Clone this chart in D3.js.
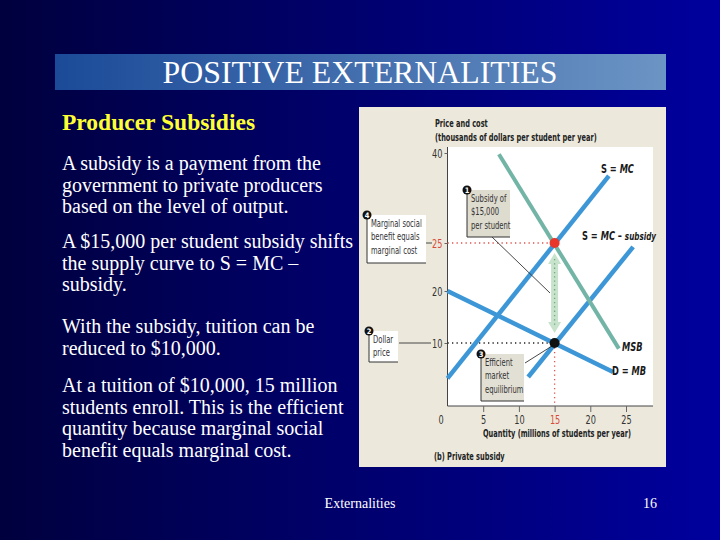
<!DOCTYPE html>
<html>
<head>
<meta charset="utf-8">
<script src="https://cdn.jsdelivr.net/npm/d3@7"></script>
<style>
	body { margin: 0; background: #000060; }
	svg { display: block; }
</style>
</head>
<body>
<div id="container"></div>
<script>
// 1. Data
const slideTitle = "POSITIVE EXTERNALITIES"
const heading = "Producer Subsidies"
const paragraphs = [
	["A subsidy is a payment from the", "government to private producers", "based on the level of output."],
	["A $15,000 per student subsidy shifts", "the supply curve to S = MC \u2013", "subsidy."],
	["With the subsidy, tuition can be", "reduced to $10,000."],
	["At a tuition of $10,000, 15 million", "students enroll. This is the efficient", "quantity because marginal social", "benefit equals marginal cost."],
]
const footerText = "Externalities"
const pageNumber = "16"

// curves: quantity (millions of students), price (thousands of dollars)
const msb = [{ q: 7.2, p: 39.8 }, { q: 24, p: 9.1 }]
const supply = [{ q: 0, p: 4.4 }, { q: 22.6, p: 36.2 }]
const supplySubsidy = [{ q: 11.3, p: 4.6 }, { q: 26, p: 24.6 }]
const demand = [{ q: 0, p: 20 }, { q: 23.2, p: 5.4 }]

const xTicks = [5, 10, 15, 20, 25]
const yTicks = [10, 20, 25, 40]
const efficientQ = 15
const costPrice = 25
const dollarPrice = 10

const calloutNumbers = ["1", "4", "2", "3"]
const calloutTexts = [
	["Subsidy of", "$15,000", "per student"],
	["Marginal social", "benefit equals", "marginal cost"],
	["Dollar", "price"],
	["Efficient", "market", "equilibrium"],
]

// 2. Dimensions
const width = 720
const height = 540

const svg = d3.select("#container")
	.append("svg")
	.attr("width", width)
	.attr("height", height)

const defs = svg.append("defs")

const bgGrad = defs.append("linearGradient").attr("id", "bg")
bgGrad.append("stop").attr("offset", "0%").attr("stop-color", "#00003e")
bgGrad.append("stop").attr("offset", "100%").attr("stop-color", "#00009e")

const titleGrad = defs.append("linearGradient").attr("id", "titlebar")
titleGrad.append("stop").attr("offset", "0%").attr("stop-color", "#1b4a98")
titleGrad.append("stop").attr("offset", "100%").attr("stop-color", "#6c94c4")

svg.append("rect")
	.attr("width", width)
	.attr("height", height)
	.attr("fill", "url(#bg)")

// Title bar
svg.append("rect")
	.attr("x", 55)
	.attr("y", 54)
	.attr("width", 611)
	.attr("height", 36)
	.attr("fill", "url(#titlebar)")

const serif = "'Liberation Serif', 'Times New Roman', serif"

svg.append("text")
	.attr("x", 360)
	.attr("y", 83)
	.attr("text-anchor", "middle")
	.attr("fill", "white")
	.style("font-family", serif)
	.style("font-size", "31.8px")
	.text(slideTitle)

// Left text
svg.append("text")
	.attr("x", 62)
	.attr("y", 130)
	.attr("fill", "#ffff33")
	.style("font-family", serif)
	.style("font-size", "23.5px")
	.style("font-weight", "bold")
	.text(heading)

const paraTops = [170, 248, 333, 392]
const lineStep = 21.5
paragraphs.forEach((lines, i) => {
	svg.append("g")
		.selectAll("text")
		.data(lines)
		.join("text")
		.attr("x", 62)
		.attr("y", (d, j) => paraTops[i] + j * lineStep)
		.attr("fill", "white")
		.style("font-family", serif)
		.style("font-size", "20px")
		.text(d => d)
})

// Footer
svg.append("text")
	.attr("x", 360)
	.attr("y", 508)
	.attr("text-anchor", "middle")
	.attr("fill", "white")
	.style("font-family", serif)
	.style("font-size", "14px")
	.text(footerText)

svg.append("text")
	.attr("x", 650)
	.attr("y", 508)
	.attr("text-anchor", "middle")
	.attr("fill", "white")
	.style("font-family", serif)
	.style("font-size", "14px")
	.text(pageNumber)

// 3. Chart panel (the textbook figure is squeezed sideways on the slide)
const sans = "'DejaVu Sans Condensed', 'DejaVu Sans', sans-serif"
const squeeze = 0.7

const panel = svg.append("g")

panel.append("rect")
	.attr("x", 359)
	.attr("y", 107)
	.attr("width", 307)
	.attr("height", 360)
	.attr("fill", "#ece9dc")

// 4. Scales (the textbook axis is schematic, so y is piecewise)
const x = d3.scaleLinear()
	.domain([0, 25])
	.range([447.5, 626])

const y = d3.scaleLinear()
	.domain([0, 10, 20, 25, 40])
	.range([406, 343, 291, 243, 153])

const plotTop = 147
const plotRight = 653

panel.append("rect")
	.attr("x", x(0))
	.attr("y", plotTop)
	.attr("width", plotRight - x(0))
	.attr("height", y(0) - plotTop)
	.attr("fill", "white")

// axis titles
const titles = [
	{ text: "Price and cost", x: 435, y: 127 },
	{ text: "(thousands of dollars per student per year)", x: 435, y: 141 },
	{ text: "Quantity (millions of students per year)", x: 483, y: 437 },
	{ text: "(b) Private subsidy", x: 434, y: 460 },
]
panel.selectAll(".axis-title")
	.data(titles)
	.join("text")
	.attr("class", "axis-title squeeze")
	.attr("x", d => d.x)
	.attr("y", d => d.y)
	.attr("fill", "#222")
	.style("font-family", sans)
	.style("font-size", "10.5px")
	.style("font-weight", "bold")
	.text(d => d.text)

// 5. Axes
const yAxis = panel.append("g")
	.attr("transform", `translate(${x(0)},0)`)
	.call(d3.axisLeft(y).tickValues(yTicks).tickSize(3).tickPadding(2))

yAxis.select(".domain").attr("d", `M0,${plotTop}V${y(0)}`).attr("stroke", "#444")

const xAxis = panel.append("g")
	.attr("transform", `translate(0,${y(0)})`)
	.call(d3.axisBottom(x).tickValues(xTicks).tickSize(6).tickPadding(3))

xAxis.select(".domain").attr("d", `M${x(0)},0H${plotRight}`).attr("stroke", "#444")

xAxis.selectAll(".tick text").attr("fill", d => d === efficientQ ? "#d84a3a" : "#333")
yAxis.selectAll(".tick text").attr("fill", d => d === costPrice ? "#d84a3a" : "#333")

for (const axis of [xAxis, yAxis]) {
	axis.selectAll(".tick line").attr("stroke", "#666")
	axis.selectAll(".tick text")
		.classed("squeeze", true)
		.style("font-family", sans)
		.style("font-size", "13px")
}

panel.append("text")
	.attr("class", "squeeze")
	.attr("x", 441)
	.attr("y", 424)
	.attr("text-anchor", "middle")
	.attr("fill", "#333")
	.style("font-family", sans)
	.style("font-size", "13px")
	.text("0")

// dotted guides
const guides = [
	{ x1: x(0), x2: x(efficientQ), y1: y(costPrice), y2: y(costPrice), color: "#e0534a" },
	{ x1: x(0), x2: x(efficientQ), y1: y(dollarPrice), y2: y(dollarPrice), color: "#222" },
	{ x1: x(efficientQ), x2: x(efficientQ), y1: y(dollarPrice), y2: y(0), color: "#e0534a" },
]
panel.selectAll(".guide")
	.data(guides)
	.join("line")
	.attr("class", "guide")
	.attr("x1", d => d.x1).attr("x2", d => d.x2)
	.attr("y1", d => d.y1).attr("y2", d => d.y2)
	.attr("stroke", d => d.color)
	.attr("stroke-width", 1.3)
	.attr("stroke-dasharray", "1.3,3.2")

// 6. Curves
const line = d3.line()
	.x(d => x(d.q))
	.y(d => y(d.p))

const curves = [
	{ data: demand, color: "#3d97d6", w: 4.5 },
	{ data: supply, color: "#3d97d6", w: 4.5 },
	{ data: supplySubsidy, color: "#3d97d6", w: 4.5 },
	{ data: msb, color: "#72b5a6", w: 4 },
]

panel.selectAll(".curve")
	.data(curves)
	.join("path")
	.attr("class", "curve")
	.attr("d", d => line(d.data))
	.attr("fill", "none")
	.attr("stroke", d => d.color)
	.attr("stroke-width", d => d.w)

// subsidy arrow (double headed)
const ax = x(efficientQ)
const aTop = y(costPrice) + 10
const aBot = y(dollarPrice) - 10
const headH = 11
const shaftW = 3.5
const headW = 6.5
panel.append("path")
	.attr("d", `M${ax},${aTop}
		L${ax + headW},${aTop + headH} L${ax + shaftW},${aTop + headH}
		L${ax + shaftW},${aBot - headH} L${ax + headW},${aBot - headH}
		L${ax},${aBot}
		L${ax - headW},${aBot - headH} L${ax - shaftW},${aBot - headH}
		L${ax - shaftW},${aTop + headH} L${ax - headW},${aTop + headH} Z`)
	.attr("fill", "#c7e3cc")

panel.append("line")
	.attr("x1", ax).attr("x2", ax)
	.attr("y1", aTop + 6).attr("y2", aBot - 6)
	.attr("stroke", "#6fa882")
	.attr("stroke-width", 1.3)
	.attr("stroke-dasharray", "1.3,3")

// leader lines
const leaders = [
	[[492, 237], [550, 293]],
	[[525, 363], [552, 346]],
	[[399, 343], [431, 343]],
	[[426, 243], [432, 243]],
]
panel.selectAll(".leader")
	.data(leaders)
	.join("path")
	.attr("class", "leader")
	.attr("d", d => d3.line()(d))
	.attr("stroke", "#333")
	.attr("stroke-width", 0.9)

// equilibrium points
panel.append("circle")
	.attr("cx", x(efficientQ))
	.attr("cy", y(costPrice))
	.attr("r", 5)
	.attr("fill", "#e8362a")

panel.append("circle")
	.attr("cx", x(efficientQ))
	.attr("cy", y(dollarPrice))
	.attr("r", 5)
	.attr("fill", "#111")

// curve labels
const curveLabel = (xp, yp, parts) => {
	const t = panel.append("text")
		.attr("class", "squeeze-label")
		.attr("x", xp)
		.attr("y", yp)
		.attr("fill", "#1a1a1a")
		.style("font-family", sans)
		.style("font-weight", "bold")
		.style("font-size", "11.5px")
	parts.forEach(([s, italic, size]) => {
		t.append("tspan")
			.style("font-style", italic ? "italic" : "normal")
			.style("font-size", size ? size + "px" : null)
			.text(s)
	})
}
curveLabel(601, 173, [["S = ", false], ["MC", true]])
curveLabel(582, 240, [["S = ", false], ["MC", true], [" \u2013 ", false], ["subsidy", true, 10]])
curveLabel(622, 351, [["MSB", true]])
curveLabel(612, 375, [["D = ", false], ["MB", true]])

// 7. Callouts
const calloutBoxes = [
	{ x: 467, y: 190, w: 43, h: 47, fill: "#dedbcf" },
	{ x: 367, y: 215, w: 59, h: 48, fill: "white" },
	{ x: 369, y: 331, w: 29, h: 31, fill: "white" },
	{ x: 481, y: 354, w: 43, h: 47, fill: "#e2e0d5" },
]

const callout = panel.selectAll(".callout")
	.data(calloutBoxes)
	.join("g")
	.attr("class", "callout")
	.attr("transform", d => `translate(${d.x},${d.y})`)

callout.append("rect")
	.attr("width", d => d.w)
	.attr("height", d => d.h)
	.attr("fill", d => d.fill)

callout.append("path")
	.attr("d", d => `M0,0V${d.h}H${d.w}`)
	.attr("fill", "none")
	.attr("stroke", "#333")
	.attr("stroke-width", 1)

callout.append("g")
	.selectAll("text")
	.data((d, i) => calloutTexts[i])
	.join("text")
	.attr("class", "squeeze")
	.attr("x", 4)
	.attr("y", (d, i) => 12 + i * 13.5)
	.attr("fill", "#333")
	.style("font-family", sans)
	.style("font-size", "10.8px")
	.text(d => d)

callout.append("circle")
	.attr("r", 4.5)
	.attr("fill", "#111")

callout.append("text")
	.attr("y", 2.6)
	.attr("text-anchor", "middle")
	.attr("fill", "white")
	.style("font-family", sans)
	.style("font-size", "7.5px")
	.style("font-weight", "bold")
	.text((d, i) => calloutNumbers[i])

// squeeze chart texts sideways around their anchor point
function squeezeText(selection, k) {
	selection.each(function () {
		const el = d3.select(this)
		const ox = +el.attr("x") || 0
		el.attr("transform", `translate(${ox},0) scale(${k},1) translate(${-ox},0)`)
	})
}
squeezeText(panel.selectAll(".squeeze"), squeeze)
squeezeText(panel.selectAll(".squeeze-label"), 0.8)
</script>
</body>
</html>
